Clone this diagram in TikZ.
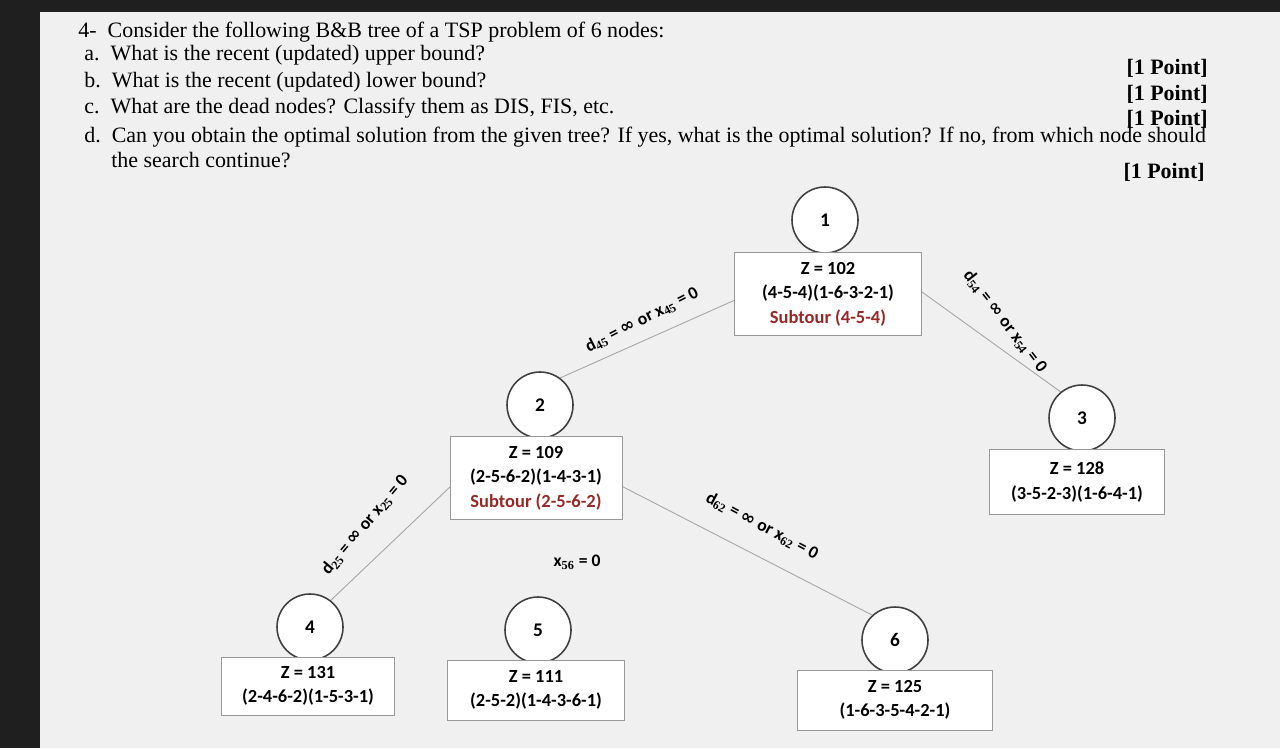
\documentclass[tikz,border=0pt]{standalone}
\usepackage{fontspec}
\setmainfont{Liberation Serif}
\newfontfamily\nodefont{Carlito}
\newfontfamily\symfont{DejaVu Sans}
\begin{document}
\begin{tikzpicture}[x=0.02cm,y=-0.02cm,
  circ/.style={draw=black!75,line width=0.9pt,circle,minimum size=66*0.02cm,fill=white,font=\nodefont\bfseries\fontsize{11}{12}\selectfont},
  boxn/.style={draw=black!40,fill=white,align=center,inner sep=0pt,font=\nodefont\bfseries\fontsize{10.5}{14}\selectfont},
  edge/.style={draw=black!35,line width=0.5pt},
  lab/.style={font=\nodefont\bfseries\fontsize{10}{11}\selectfont,inner sep=1pt},
  q/.style={anchor=west,font=\fontsize{12.5}{13}\selectfont,inner sep=0pt},
  pt/.style={anchor=east,font=\bfseries\fontsize{12.5}{13}\selectfont,inner sep=0pt}]
\useasboundingbox (0,0) rectangle (1280,748);
\fill[black!88] (0,0) rectangle (1280,748);
\fill[black!6] (40,12) rectangle (1280,748);
\definecolor{dred}{RGB}{150,40,40}
% question text
\node[q] (t0) at (78,32) {4-\ \ Consider the following B\&B tree of a TSP problem of 6 nodes:};
\node[q] (ta) at (84,55) {a.\ \ What is the recent (updated) upper bound?};
\node[q] (tb) at (84,82) {b.\ \ What is the recent (updated) lower bound?};
\node[q] (tc) at (84,108) {c.\ \ What are the dead nodes? Classify them as DIS, FIS, etc.};
\node[q] (td) at (84,137) {d.\ \ Can you obtain the optimal solution from the given tree? If yes, what is the optimal solution? If no, from which node should};
\node[q] (te) at (111,160) {the search continue?};
\node[pt] (pa) at (1208,68) {[1 Point]};
\node[pt] (pb) at (1208,94) {[1 Point]};
\node[pt] (pc) at (1208,119) {[1 Point]};
\node[pt] (pd) at (1205,172) {[1 Point]};
% edges
\coordinate (b1l) at (735,300); \coordinate (b1r) at (922,292);
\coordinate (b2r) at (600,475); \coordinate (b2l) at (452,485);
\draw[edge] (b1l) -- (560,378);
\draw[edge] (b1r) -- (1065,395);
\draw[edge] (b2l) -- (328,603);
\draw[edge] (b2r) -- (872,615);
% circles
\node[circ] (n1) at (825,220) {1};
\node[circ] (n2) at (540,405) {2};
\node[circ] (n3) at (1082,418) {3};
\node[circ] (n4) at (310,627) {4};
\node[circ] (n5) at (538,630) {5};
\node[circ] (n6) at (895,640) {6};
% boxes
\node[boxn,minimum width=187*0.02cm,minimum height=83*0.02cm] (b1) at (828,294) {Z = 102\\(4-5-4)(1-6-3-2-1)\\\textcolor{dred}{Subtour (4-5-4)}};
\node[boxn,minimum width=172*0.02cm,minimum height=83*0.02cm] (b2) at (536,478) {Z = 109\\(2-5-6-2)(1-4-3-1)\\\textcolor{dred}{Subtour (2-5-6-2)}};
\node[boxn,minimum width=175*0.02cm,minimum height=65*0.02cm] (b3) at (1077,482) {Z = 128\\(3-5-2-3)(1-6-4-1)};
\node[boxn,minimum width=173*0.02cm,minimum height=58*0.02cm] (b4) at (308,686) {Z = 131\\(2-4-6-2)(1-5-3-1)};
\node[boxn,minimum width=177*0.02cm,minimum height=60*0.02cm] (b5) at (536,690) {Z = 111\\(2-5-2)(1-4-3-6-1)};
\node[boxn,minimum width=195*0.02cm,minimum height=60*0.02cm] (b6) at (895,700) {Z = 125\\(1-6-3-5-4-2-1)};
% labels
\node[lab,rotate=27] (l12) at (642,320) {d$_{\mathbf{45}}$ = {\symfont ∞} or x$_{\mathbf{45}}$ = 0};
\node[lab,rotate=-52] (l13) at (1005,322) {d$_{\mathbf{54}}$ = {\symfont ∞} or x$_{\mathbf{54}}$ = 0};
\node[lab,rotate=50] (l24) at (365,525) {d$_{\mathbf{25}}$ = {\symfont ∞} or x$_{\mathbf{25}}$ = 0};
\node[lab,rotate=-28] (l26) at (762,526) {d$_{\mathbf{62}}$ = {\symfont ∞} or x$_{\mathbf{62}}$ = 0};
\node[lab] (l25) at (577,562) {x$_{\mathbf{56}}$ = 0};
\end{tikzpicture}
\end{document}
